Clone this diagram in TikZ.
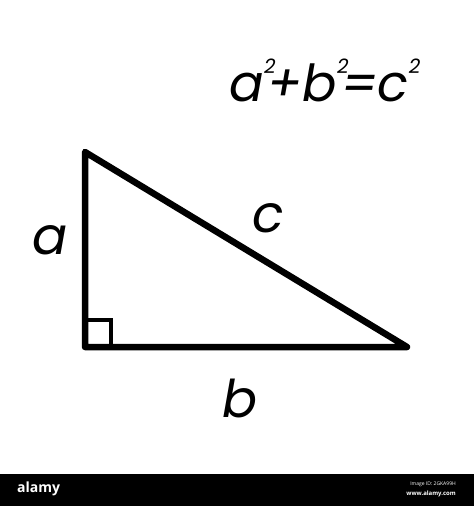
\documentclass[tikz,border=0pt]{standalone}
\usepackage{fontspec}
\newfontfamily\hand{Poppins}
\newfontfamily\barfont{Open Sans}
\begin{document}
\begin{tikzpicture}[x=1pt,y=-1pt,
  edge/.style={line width=6.5pt,line join=round,line cap=round},
  lbl/.style={font=\hand\itshape\fontsize{52}{52}\selectfont,inner sep=0pt},
  eq/.style={font=\hand\itshape\fontsize{51}{51}\selectfont,inner sep=0pt}]
\useasboundingbox (0,0) rectangle (474,506);
\fill[white] (0,0) rectangle (474,506);
\coordinate (A) at (85,152);
\coordinate (C) at (85,347);
\coordinate (B) at (407,347);
\draw[edge] (A) -- (C) -- (B) -- cycle;
\draw[line width=4pt] (86,320) -- (111,320) -- (111,346);
\node[lbl] (la) at (50,240) {a};
\node[lbl] (lc) at (268,218) {c};
\node[lbl] (lb) at (240,398) {b};
\node[eq] (eq) at (325,80) {a\raisebox{0.55em}{\fontsize{20}{20}\selectfont 2}\kern-0.15em+b\raisebox{0.55em}{\fontsize{20}{20}\selectfont 2}\kern-0.15em=c\raisebox{0.55em}{\fontsize{20}{20}\selectfont 2}};
\fill[black] (0,474) rectangle (474,506);
\node[text=white,font=\barfont\bfseries\fontsize{14}{14}\selectfont,anchor=west,inner sep=0pt] (al) at (17,489) {alamy};
\node[text=white,font=\barfont\fontsize{5}{5}\selectfont,anchor=east,inner sep=0pt] (id) at (456,484) {Image ID: 2GKA99H};
\node[text=white,font=\barfont\bfseries\fontsize{6}{6}\selectfont,anchor=east,inner sep=0pt] (url) at (456,494) {www.alamy.com};
\end{tikzpicture}
\end{document}
